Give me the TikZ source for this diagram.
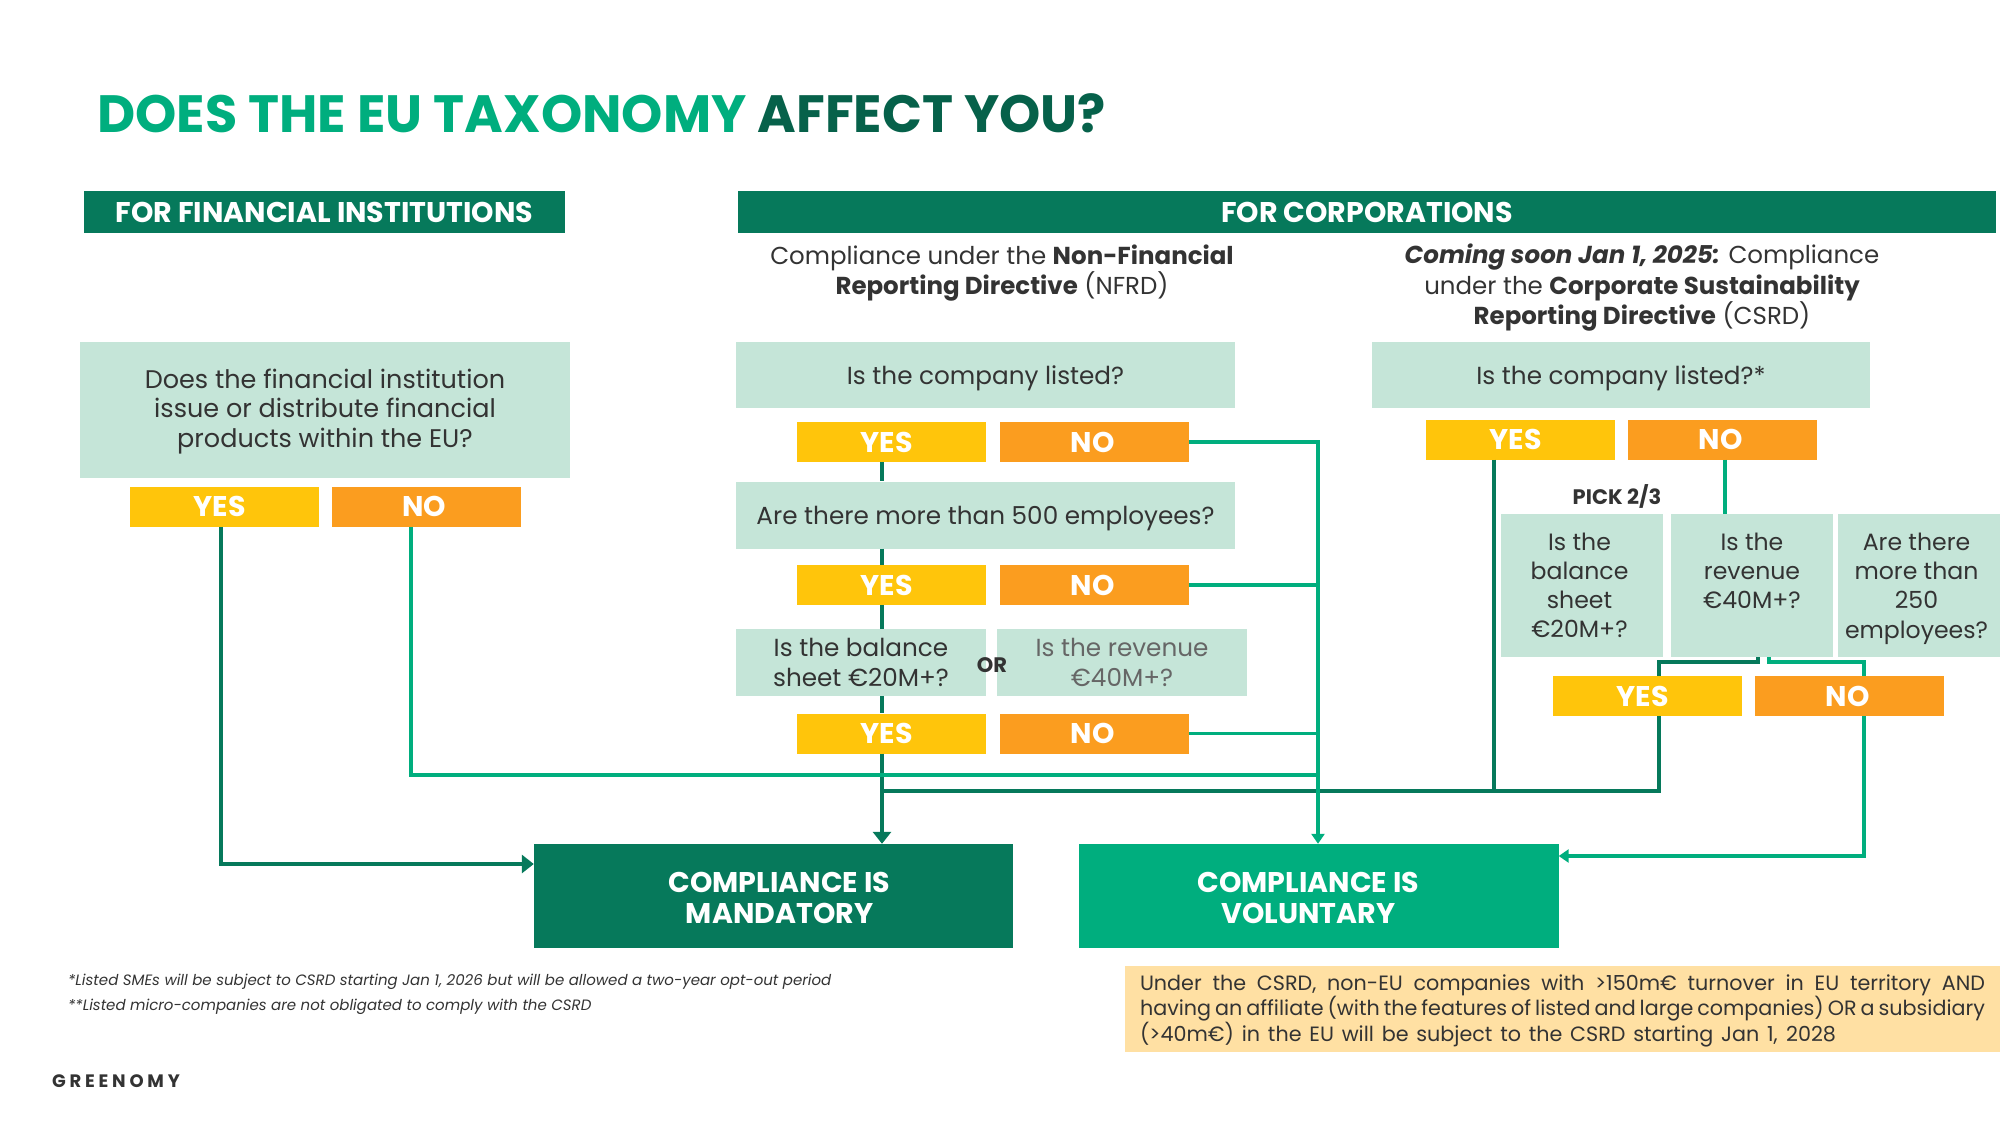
\documentclass[tikz,border=0pt]{standalone}
\usepackage{fontspec}
\setmainfont{Poppins}
\usetikzlibrary{arrows.meta}
\definecolor{pale}{HTML}{C5E5D8}
\definecolor{yesc}{HTML}{FFC50B}
\definecolor{noc}{HTML}{FB9D1F}
\definecolor{deep}{HTML}{06795B}
\definecolor{bright}{HTML}{00AE7E}
\definecolor{titledeep}{HTML}{06614A}
\definecolor{ink}{HTML}{333333}
\definecolor{note}{HTML}{FFE0A3}
\newcommand{\fullline}[2][845]{\makebox[#1pt][s]{#2}}
\newcommand{\topgap}[1]{\rule{0pt}{#1pt}}
\newcommand{\nudge}{\hspace*{-5pt}}
\begin{document}
\begin{tikzpicture}[x=1pt,y=-1pt,
  head/.style={rectangle,fill=deep,text=white,inner sep=0pt,font=\fontsize{28.5}{32}\selectfont\bfseries},
  sub/.style={align=center,inner sep=0pt,text=ink,font=\fontsize{24.5}{30.5}\selectfont},
  ask/.style={rectangle,fill=pale,text=ink,inner sep=0pt,align=center,font=\fontsize{24.7}{29.5}\selectfont},
  oneline/.style={text height=22pt,text depth=3pt},
  narrow/.style={minimum width=162,minimum height=143,font=\fontsize{23.6}{29.2}\selectfont},
  yes/.style={rectangle,fill=yesc,text=white,inner sep=0pt,minimum width=189,minimum height=40,text height=20pt,text depth=0pt,font=\fontsize{28.5}{32}\selectfont\bfseries,execute at begin node={\hspace*{-10pt}}},
  no/.style={rectangle,fill=noc,text=white,inner sep=0pt,minimum width=189,minimum height=40,text height=20pt,text depth=0pt,font=\fontsize{28.5}{32}\selectfont\bfseries,execute at begin node={\hspace*{-4pt}}},
  result/.style={rectangle,text=white,inner sep=0pt,minimum height=104,align=center,font=\fontsize{28.5}{31}\selectfont\bfseries},
  tag/.style={inner sep=0pt,text=ink,font=\fontsize{21}{24}\selectfont\bfseries},
  small/.style={inner sep=0pt,anchor=west,text=ink,font=\fontsize{15}{17}\selectfont\itshape},
  deepline/.style={draw=deep,line width=3.2pt},
  brightline/.style={draw=bright,line width=3.2pt},
  deeptip/.style={-{Triangle[width=18pt,length=12pt]}},
  brighttip/.style={-{Triangle[width=13pt,length=10pt]}}]
\useasboundingbox (0,0) rectangle (2000,1135);
\node [inner sep=0pt,anchor=base west,font=\fontsize{52.5}{56}\selectfont\bfseries] (title) at (97,132)
  {\textcolor{bright}{DOES THE EU TAXONOMY} \textcolor{titledeep}{AFFECT YOU?}};

\node [head,minimum width=481,minimum height=42] (fihead) at (324.5,212) {FOR FINANCIAL INSTITUTIONS};
\node [head,minimum width=1258,minimum height=42] (corphead) at (1367,212) {FOR CORPORATIONS};
\node [sub] (nfrd) at (1002,273) {Compliance under the \textbf{Non-Financial}\\\textbf{Reporting Directive} (NFRD)};
\node [sub] (csrd) at (1642,288) {\textbf{\textit{Coming soon Jan 1, 2025:}} Compliance\\under the \textbf{Corporate Sustainability}\\\textbf{Reporting Directive} (CSRD)};

\node [ask,minimum width=490,minimum height=136,font=\fontsize{25.5}{29.5}\selectfont] (fiask) at (325,410) {\topgap{22}Does the financial institution\\issue or distribute financial\\products within the EU?};
\node [yes] (fiyes) at (224.5,506.5) {YES};
\node [no] (fino) at (426,506.5) {NO};

\node [ask,oneline,minimum width=499,minimum height=66] (listed) at (985.5,375) {Is the company listed?};
\node [yes] (yesa) at (891.5,442) {YES};
\node [no] (noa) at (1094.5,442) {NO};
\node [ask,oneline,minimum width=499,minimum height=67] (staff) at (985.5,515) {Are there more than 500 employees?};
\node [yes] (yesb) at (891.5,585) {YES};
\node [no] (nob) at (1094.5,585) {NO};
\node [ask,minimum width=250,minimum height=67] (sheet) at (861,662.5) {Is the balance\\sheet €20M+?};
\node [ask,minimum width=250,minimum height=67,text=ink!75] (turnover) at (1122,662.5) {Is the revenue\\€40M+?};
\node [tag] (orword) at (992,665) {OR};
\node [yes] (yesc) at (891.5,733.5) {YES};
\node [no] (noc) at (1094.5,733.5) {NO};

\node [ask,oneline,minimum width=498,minimum height=66] (listedb) at (1621,375) {Is the company listed?*};
\node [yes] (yesd) at (1520.5,439.5) {YES};
\node [no] (nod) at (1722.5,439.5) {NO};
\node [tag] (pick) at (1617,496) {PICK 2/3};
\node [ask,narrow] (sheetb) at (1582,585.5) {\nudge Is the\\\nudge balance\\\nudge sheet\\\nudge €20M+?};
\node [ask,narrow] (turnoverb) at (1752,585.5) {Is the\\revenue\\€40M+?\\\mbox{}};
\node [ask,narrow] (staffb) at (1919,585.5) {\nudge Are there\\\nudge more than\\\nudge 250\\\nudge\smash{employees?}};
\node [yes] (yese) at (1647.5,696) {YES};
\node [no] (noe) at (1849.5,696) {NO};

\node [result,fill=deep,minimum width=479] (must) at (773.5,896) {\topgap{25}\hspace*{12pt}COMPLIANCE IS\\\hspace*{12pt}MANDATORY};
\node [result,fill=bright,minimum width=480] (may) at (1318.5,896) {\topgap{25}\hspace*{-20pt}COMPLIANCE IS\\\hspace*{-20pt}VOLUNTARY};

\coordinate (deepx) at (882,791);
\coordinate (brightx) at (1318,775);
\coordinate (ex) at (1494,791);
\coordinate (ey) at (1659,791);
\coordinate (fx) at (411,775);
\coordinate (gx) at (221,864);
\coordinate (hx) at (1864,856);
\coordinate (kink) at (1725,514);
\coordinate (splitd) at (1758,662);
\coordinate (splitb) at (1769,662);

\draw [deepline] (yesa.south -| deepx) -- (staff.north -| deepx);
\draw [deepline] (staff.south -| deepx) -- (yesb.north -| deepx);
\draw [deepline] (yesb.south -| deepx) -- (sheet.north -| deepx);
\draw [deepline] (sheet.south -| deepx) -- (yesc.north -| deepx);
\draw [deepline,deeptip] (yesc.south -| deepx) -- (must.north -| deepx);
\draw [deepline] (deepx) -- (ey) -- (yese.south -| ey);
\draw [deepline] (yesd.south -| ex) -- (ex);
\draw [deepline,deeptip] (fiyes.south -| gx) -- (gx) -- (must.west |- gx);
\draw [deepline] (turnoverb.south -| splitd) -- (splitd) -- (splitd -| ey) -- (yese.north -| ey);

\draw [brightline,brighttip] (noa.east) -- (noa.east -| brightx) -- (may.north -| brightx);
\draw [brightline] (nob.east) -- (nob.east -| brightx);
\draw [brightline] (noc.east) -- (noc.east -| brightx);
\draw [brightline] (fino.south -| fx) -- (fx) -- (brightx);
\draw [brightline] (nod.south -| kink) -- (kink);
\draw [brightline] (turnoverb.south -| splitb) -- (splitb) -- (splitb -| hx) -- (noe.north -| hx);
\draw [brightline,brighttip] (noe.south -| hx) -- (hx) -- (may.east |- hx);

\node [small] (notea) at (68,981.5) {*Listed SMEs will be subject to CSRD starting Jan 1, 2026 but will be allowed a two-year opt-out period};
\node [small] (noteb) at (68,1007) {**Listed micro-companies are not obligated to comply with the CSRD};
\node [rectangle,fill=note,text=ink,inner sep=0pt,minimum width=875,minimum height=86,align=left,font=\fontsize{20.7}{25.5}\selectfont] (csrdnote) at (1562.5,1009)
  {\topgap{19}\fullline{Under the CSRD, non-EU companies with >150m€ turnover in EU territory AND}\\
   \fullline{having an affiliate (with the features of listed and large companies) OR a subsidiary}\\
   \fullline[696]{(>40m€) in the EU will be subject to the CSRD starting Jan 1, 2028}};
\node [inner sep=0pt,anchor=west,text=ink,font=\fontsize{18}{20}\selectfont\bfseries] (brand) at (52,1081) {\addfontfeature{LetterSpace=21}GREENOMY};
\end{tikzpicture}
\end{document}
